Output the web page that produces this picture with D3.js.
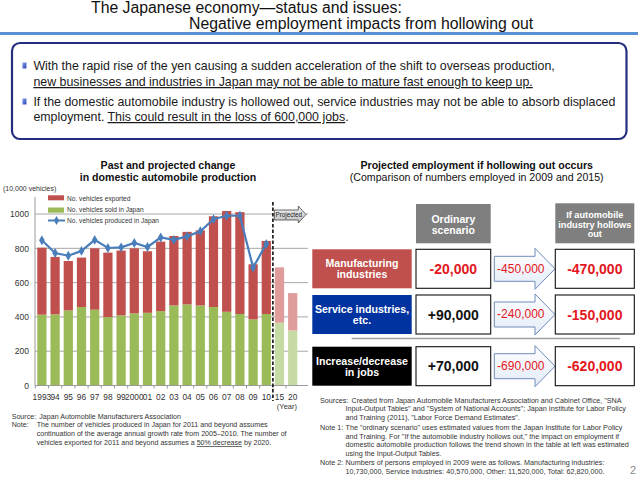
<!DOCTYPE html>
<html><head><meta charset="utf-8">
<script src="https://cdn.jsdelivr.net/npm/d3@7"></script>
<style>
body{margin:0;background:#fff}
svg{display:block}
text{font-family:"Liberation Sans",Arial,sans-serif}
</style>
</head><body>
<svg id="c" width="638" height="478"></svg>
<script>
// ---------- data ----------
const titleLines = ["The Japanese economy\u2014status and issues:", "Negative employment impacts from hollowing out"];
const calloutLines = [
  [{t:"With the rapid rise of the yen causing a sudden acceleration of the shift to overseas production,"}],
  [{t:"new businesses and industries in Japan may not be able to mature fast enough to keep up.", u:true}],
  [{t:"If the domestic automobile industry is hollowed out, service industries may not be able to absorb displaced"}],
  [{t:"employment. "},{t:"This could result in the loss of 600,000 jobs", u:true},{t:"."}]
];
const years = ["1993","1994","1995","1996","1997","1998","1999","2000","2001","2002","2003","2004","2005","2006","2007","2008","2009","2010","2015","2020"];
const yearLabels = ["1993","94","95","96","97","98","99","2000","01","02","03","04","05","06","07","08","09","10","15","20"];
const soldInJapan = [413,415,438,458,442,399,409,421,424,434,467,473,467,458,430,417,386,417,366,321];
const exported    = [391,335,288,288,358,376,378,379,359,405,405,423,438,529,588,594,321,426,323,218];
const produced    = [847,773,757,785,849,802,806,831,808,863,849,870,900,970,990,990,688,826];
const projectedYears = ["2015","2020"];
const yTicks = [0,200,400,600,800,1000];
const legendLabels = ["No. vehicles exported","No. vehicles sold in Japan","No. vehicles produced in Japan"];
const leftTitle = ["Past and projected change","in domestic automobile production"];
const leftNoteHeads = ["Source:","Note:"];
const leftNoteText = [
  [{t:"Japan Automobile Manufacturers Association"}],
  [{t:"The number of vehicles produced in Japan for 2011 and beyond assumes"}],
  [{t:"continuation of the average annual growth rate from 2005\u20132010. The number of"}],
  [{t:"vehicles exported for 2011 and beyond assumes a "},{t:"50% decrease",u:true},{t:" by 2020."}]
];
const rightTitle = ["Projected employment if hollowing out occurs","(Comparison of numbers employed in 2009 and 2015)"];
const colHeaders = [["Ordinary","scenario"],["If automobile","industry hollows","out"]];
const rowLabels = [["Manufacturing","industries"],["Service industries,","etc."],["Increase/decrease","in jobs"]];
const ordinary = ["-20,000","+90,000","+70,000"];
const hollowImpact = ["-450,000","-240,000","-690,000"];
const hollowResult = ["-470,000","-150,000","-620,000"];
const rightNotes = [
  ["Sources:","Created from Japan Automobile Manufacturers Association and Cabinet Office, \"SNA"],
  ["","Input-Output Tables\" and \"System of National Accounts\"; Japan Institute for Labor Policy"],
  ["","and Training (2011), \"Labor Force Demand Estimates\"."],
  ["Note 1:","The \"ordinary scenario\" uses estimated values from the Japan Institute for Labor Policy"],
  ["","and Training. For \"If the automobile industry hollows out,\" the impact on employment if"],
  ["","domestic automobile production follows the trend shown in the table at left was estimated"],
  ["","using the Input-Output Tables."],
  ["Note 2:","Numbers of persons employed in 2009 were as follows. Manufacturing industries:"],
  ["","10,730,000, Service industries: 40,570,000, Other: 11,520,000, Total: 62,820,000."]
];

// ---------- drawing ----------
const svg = d3.select("#c");
const defs = svg.append("defs");
const g1 = defs.append("linearGradient").attr("id","bul").attr("x1",0).attr("y1",0).attr("x2",1).attr("y2",1);
g1.append("stop").attr("offset",0).attr("stop-color","#8fa8f0");
g1.append("stop").attr("offset",1).attr("stop-color","#1f3cb0");
const g2 = defs.append("linearGradient").attr("id","proj").attr("x1",0).attr("y1",0).attr("x2",0).attr("y2",1);
g2.append("stop").attr("offset",0).attr("stop-color","#f4f4f4");
g2.append("stop").attr("offset",1).attr("stop-color","#bdbdbd");
const g3 = defs.append("linearGradient").attr("id","arr").attr("x1",0).attr("y1",0).attr("x2",0).attr("y2",1);
g3.append("stop").attr("offset",0).attr("stop-color","#ffffff");
g3.append("stop").attr("offset",1).attr("stop-color","#e3ebf6");

// title
svg.append("text").attr("x",91).attr("y",13).attr("font-size",15.8).attr("fill","#111").text(titleLines[0]);
svg.append("text").attr("x",189).attr("y",28.5).attr("font-size",15.8).attr("fill","#111").text(titleLines[1]);
svg.append("rect").attr("x",0).attr("y",32).attr("width",638).attr("height",3).attr("fill","#5b8fd3");

// callout
svg.append("rect").attr("x",12).attr("y",43).attr("width",614.5).attr("height",96).attr("rx",8)
  .attr("fill","#fff").attr("stroke","#232f7e").attr("stroke-width",2.2);
const cY = [70,86,106,121];
[0,2].forEach(i=>{
  svg.append("rect").attr("x",22.4).attr("y",cY[i]-7.5).attr("width",4).attr("height",6).attr("fill","url(#bul)");
});
calloutLines.forEach((parts,i)=>{
  const t = svg.append("text").attr("x",33.4).attr("y",cY[i]).attr("font-size",12.4).attr("fill","#1a1a1a");
  parts.forEach(p=>{
    const s = t.append("tspan").text(p.t);
    if(p.u) s.style("text-decoration","underline");
  });
});

// left chart title
leftTitle.forEach((l,i)=>{
  svg.append("text").attr("x",168).attr("y",169+i*12).attr("text-anchor","middle")
    .attr("font-size",10.6).attr("font-weight","bold").attr("fill","#111").text(l);
});
svg.append("text").attr("x",3).attr("y",190.5).attr("font-size",7).attr("fill","#333").text("(10,000 vehicles)");

// scales
const x = d3.scaleBand().domain(years).range([35.3,299.3]).paddingInner(0.3).paddingOuter(0.15);
const y = d3.scaleLinear().domain([0,1100]).range([385.5,196.9]);

// grid
const grid = svg.append("g");
grid.selectAll("line").data(yTicks.filter(d=>d>0)).join("line")
  .attr("x1",35).attr("x2",308).attr("y1",d=>y(d)).attr("y2",d=>y(d))
  .attr("stroke","#a8a8a8").attr("stroke-width",1);

// y axis
const yAxis = svg.append("g").attr("transform","translate(35,0)")
  .call(d3.axisLeft(y).tickValues(yTicks).tickFormat(d3.format("d")).tickSize(0).tickPadding(6));
yAxis.select(".domain").attr("stroke","#9a9a9a").attr("d","M0,"+y(1100)+"V"+y(0));
yAxis.selectAll("text").attr("font-size",8.5).attr("fill","#333").attr("font-family","Liberation Sans, Arial, sans-serif");

// stacked bars
const table = years.map((yr,i)=>({year:yr, sold:soldInJapan[i], exported:exported[i]}));
const stack = d3.stack().keys(["sold","exported"])(table);
const colors = {sold:"#9bbb59", exported:"#c0504d"};
const projColors = {sold:"#c6dba3", exported:"#df9c9b"};
svg.append("g").selectAll("g").data(stack).join("g")
  .each(function(layer){
    d3.select(this).selectAll("rect").data(layer).join("rect")
      .attr("x",d=>x(d.data.year)).attr("width",x.bandwidth())
      .attr("y",d=>y(d[1])).attr("height",d=>y(d[0])-y(d[1]))
      .attr("fill",d=>projectedYears.includes(d.data.year)?projColors[layer.key]:colors[layer.key]);
  });

// x axis
const xAxis = svg.append("g").attr("transform","translate(0,"+y(0)+")")
  .call(d3.axisBottom(x).tickFormat((d,i)=>yearLabels[i]).tickSize(0).tickPadding(9));
xAxis.select(".domain").attr("stroke","#9a9a9a").attr("d","M35,0H308");
xAxis.selectAll("text").attr("font-size",8.4).attr("fill","#333").attr("font-family","Liberation Sans, Arial, sans-serif");
const step = x.step();
xAxis.append("g").selectAll("line").data(years).join("line")
  .attr("x1",d=>x(d)-step*x.paddingInner()/2).attr("x2",d=>x(d)-step*x.paddingInner()/2)
  .attr("y1",0).attr("y2",3).attr("stroke","#9a9a9a");
svg.append("text").attr("x",297).attr("y",409).attr("text-anchor","end").attr("font-size",7.5).attr("fill","#333").text("(Year)");

// production line
const line = d3.line().x((d,i)=>x(years[i])+x.bandwidth()/2).y(d=>y(d));
svg.append("path").datum(produced).attr("d",line).attr("fill","none").attr("stroke","#4a7ebb").attr("stroke-width",2.2);
svg.append("g").selectAll("path").data(produced).join("path")
  .attr("transform",(d,i)=>"translate("+(x(years[i])+x.bandwidth()/2)+","+y(d)+")")
  .attr("d",d3.symbol(d3.symbolDiamond,28)).attr("fill","#4a7ebb");

// dashed projection divider
const divX = x("2010")+x.bandwidth()+step*x.paddingInner()/2;
svg.append("line").attr("x1",divX).attr("x2",divX).attr("y1",202).attr("y2",401)
  .attr("stroke","#111").attr("stroke-width",1.6).attr("stroke-dasharray","3.5,2");

// projected arrow
const pa = d3.path();
pa.moveTo(divX+1.5,210); pa.lineTo(298.3,210); pa.lineTo(298.3,206); pa.lineTo(306,214.5);
pa.lineTo(298.3,223); pa.lineTo(298.3,220); pa.lineTo(divX+1.5,220); pa.closePath();
svg.append("path").attr("d",pa.toString()).attr("fill","url(#proj)").attr("stroke","#444").attr("stroke-width",0.8);
svg.append("text").attr("x",275.5).attr("y",217.3).attr("font-size",6.3).attr("fill","#222").text("Projected");

// legend
const lg = svg.append("g");
lg.append("rect").attr("x",48).attr("y",195.3).attr("width",16).attr("height",5).attr("fill",colors.exported);
lg.append("rect").attr("x",48).attr("y",207.5).attr("width",16).attr("height",5.2).attr("fill",colors.sold);
lg.append("line").attr("x1",48).attr("x2",65).attr("y1",220.5).attr("y2",220.5).attr("stroke","#4a7ebb").attr("stroke-width",2);
lg.append("path").attr("transform","translate(56.5,220.5)").attr("d",d3.symbol(d3.symbolDiamond,24)).attr("fill","#4a7ebb");
[200.5,212.3,222.8].forEach((yy,i)=>{
  lg.append("text").attr("x",67).attr("y",yy).attr("font-size",6.6).attr("fill","#333").text(legendLabels[i]);
});

// left notes
const lnY = [418.5,427,436,445];
leftNoteHeads.forEach((h,i)=>{
  svg.append("text").attr("x",11.7).attr("y",lnY[i]).attr("font-size",7.1).attr("fill","#333").text(h);
});
leftNoteText.forEach((parts,i)=>{
  const t = svg.append("text").attr("x",i===0?39.3:36.7).attr("y",lnY[i]).attr("font-size",7.1).attr("fill","#333");
  parts.forEach(p=>{ const s=t.append("tspan").text(p.t); if(p.u) s.style("text-decoration","underline"); });
});

// right panel
svg.append("text").attr("x",476.7).attr("y",168.5).attr("text-anchor","middle").attr("font-size",10.6)
  .attr("font-weight","bold").attr("fill","#111").text(rightTitle[0]);
svg.append("text").attr("x",476.7).attr("y",180.5).attr("text-anchor","middle").attr("font-size",10.6)
  .attr("fill","#111").text(rightTitle[1]);

const colX = [416,555.3], colW = [74.7,79];
svg.append("rect").attr("x",colX[0]).attr("y",204).attr("width",colW[0]).attr("height",39.3).attr("fill","#7f7f7f");
svg.append("rect").attr("x",colX[1]).attr("y",203.3).attr("width",colW[1]).attr("height",40).attr("fill","#7f7f7f");
colHeaders[0].forEach((l,i)=>svg.append("text").attr("x",colX[0]+colW[0]/2).attr("y",222.7+i*11)
  .attr("text-anchor","middle").attr("font-size",10.5).attr("font-weight","bold").attr("fill","#fff").text(l));
colHeaders[1].forEach((l,i)=>svg.append("text").attr("x",colX[1]+colW[1]/2).attr("y",218.3+i*9.5)
  .attr("text-anchor","middle").attr("font-size",9.2).attr("font-weight","bold").attr("fill","#fff").text(l));

const rowY = [249.3,295,346.7], rowH = 39;
const labelFill = ["#c0504d","#0033a0","#000000"];
rowLabels.forEach((lab,r)=>{
  const y0 = rowY[r], cy = y0+rowH/2;
  svg.append("rect").attr("x",312.3).attr("y",y0).attr("width",99.4).attr("height",rowH).attr("fill",labelFill[r]);
  lab.forEach((l,i)=>svg.append("text").attr("x",362).attr("y",cy-1.5+(i?11:0)).attr("text-anchor","middle")
    .attr("font-size",10.6).attr("font-weight","bold").attr("fill","#fff").text(l));
  svg.append("rect").attr("x",colX[0]).attr("y",y0).attr("width",colW[0]).attr("height",rowH)
    .attr("fill","#fff").attr("stroke","#111").attr("stroke-width",1.1);
  svg.append("text").attr("x",colX[0]+colW[0]/2).attr("y",cy+5.2).attr("text-anchor","middle")
    .attr("font-size",14).attr("font-weight","bold").attr("fill",ordinary[r].startsWith("-")?"#e3161d":"#111").text(ordinary[r]);
  const ap = d3.path();
  ap.moveTo(494.3,cy-12.5); ap.lineTo(535,cy-12.5); ap.lineTo(535,cy-20.5); ap.lineTo(555,cy);
  ap.lineTo(535,cy+20.5); ap.lineTo(535,cy+12.5); ap.lineTo(494.3,cy+12.5); ap.closePath();
  svg.append("path").attr("d",ap.toString()).attr("fill","url(#arr)").attr("stroke","#6f8cbc").attr("stroke-width",1);
  svg.append("text").attr("x",520.8).attr("y",cy+3.8).attr("text-anchor","middle")
    .attr("font-size",12).attr("fill","#e3161d").text(hollowImpact[r]);
  svg.append("rect").attr("x",colX[1]).attr("y",y0).attr("width",colW[1]).attr("height",rowH)
    .attr("fill","#fff").attr("stroke","#111").attr("stroke-width",1.1);
  svg.append("text").attr("x",colX[1]+colW[1]/2).attr("y",cy+5.2).attr("text-anchor","middle")
    .attr("font-size",14).attr("font-weight","bold").attr("fill","#e3161d").text(hollowResult[r]);
});
svg.append("line").attr("x1",351.7).attr("x2",620).attr("y1",338.5).attr("y2",338.5).attr("stroke","#a0a0a0").attr("stroke-width",1.5);

// right notes
const rnY = [402.5,411.3,420,429.5,438.5,447.3,456,465.3,474];
rightNotes.forEach((r,i)=>{
  if(r[0]) svg.append("text").attr("x",320).attr("y",rnY[i]).attr("font-size",7.2).attr("fill","#333").text(r[0]);
  svg.append("text").attr("x",(r[0]==="Sources:")?351.5:345.5).attr("y",rnY[i]).attr("font-size",7.2).attr("fill","#333").text(r[1]);
});
svg.append("text").attr("x",636).attr("y",474.3).attr("text-anchor","end").attr("font-size",11).attr("fill","#888").text("2");
</script>
</body></html>
